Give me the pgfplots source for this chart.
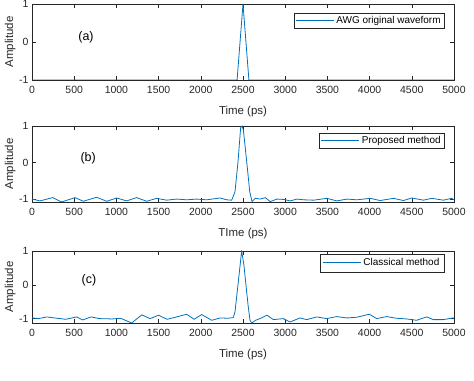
\documentclass[border=0pt]{standalone}
\usepackage{fontspec}
\setmainfont{Liberation Sans}
\usepackage{pgfplots}
\pgfplotsset{compat=1.18}
\definecolor{mblue}{rgb}{0,0.447,0.741}
\definecolor{axgray}{rgb}{0.15,0.15,0.15}
\pgfplotsset{
  panel/.style={
    scale only axis, width=422bp, xmin=0, xmax=5000, ymax=1,
    xtick={0,500,...,5000}, ytick={-1,0,1},
    tick align=inside, major tick length=4bp,
    axis line style={axgray, line width=0.5pt}, tick style={axgray, line width=0.5pt},
    tick label style={font=\fontsize{10.5}{12}\selectfont, text=axgray},
    xticklabel style={yshift=-3bp},
    label style={font=\fontsize{11.5}{13}\selectfont, text=axgray},
    xlabel style={yshift=-5bp},
    ylabel style={at={(axis description cs:-0.052,0.5)}, anchor=center},
    /pgf/number format/assume math mode=true,
    /pgf/number format/1000 sep={},
    scaled x ticks=false,
    ylabel={Amplitude},
    legend cell align=left,
    legend style={font=\fontsize{10}{11}\selectfont, draw=axgray, fill=white, at={(1,1)}, anchor=north east, xshift=-10bp, inner sep=1.2pt, row sep=0pt},
    legend image code/.code={\draw[color=mblue, line width=1.1pt] (0bp,0.3bp) -- (38bp,0.3bp);},
  }
}
\begin{document}
\begin{tikzpicture}
% (a)
\begin{axis}[panel, at={(32bp,301bp)}, anchor=south west, height=76bp, ymin=-1,
  xlabel={Time (ps)}, legend style={yshift=-9bp}]
\addplot[mblue, no markers, line width=0.8pt] coordinates {(0,-1) (2430,-1) (2500,1) (2570,-1) (5000,-1)};
\addlegendentry{AWG original waveform}
\node[font=\fontsize{12.5}{14}\selectfont] at (axis cs:640,0.13) {(a)};
\end{axis}
% (b)
\begin{axis}[panel, at={(32bp,179bp)}, anchor=south west, height=76bp, ymin=-1.08,
  xlabel={TIme (ps)}, legend style={yshift=-7bp}]
\addplot[mblue, no markers, line width=0.8pt] coordinates {
(0,-1.00) (95,-1.05) (245,-0.96) (351,-1.08) (510,-0.96) (608,-1.06) (766,-0.95)
(885,-1.06) (1003,-0.97) (1122,-1.05) (1240,-0.96) (1359,-1.06) (1477,-0.98)
(1596,-1.03) (1714,-1.00) (1833,-1.02) (1951,-1.00) (2070,-1.02) (2228,-0.97)
(2307,-1.02) (2366,-1.03) (2405,-0.80) (2440,0.0) (2472,0.95) (2490,1.0)
(2505,0.88) (2545,0.0) (2580,-0.80) (2607,-1.07) (2646,-0.98) (2705,-1.00)
(2764,-0.96) (2823,-1.07) (2902,-1.00) (2981,-1.01) (3060,-1.05) (3139,-1.00)
(3218,-1.02) (3336,-1.03) (3494,-0.98) (3612,-1.05) (3731,-1.00) (3849,-1.02)
(4007,-0.98) (4125,-1.04) (4283,-0.98) (4401,-1.04) (4500,-0.97) (4638,-1.03)
(4737,-0.98) (4875,-1.03) (4973,-0.98) (5000,-1.02)};
\addlegendentry{Proposed method}
\node[font=\fontsize{12.5}{14}\selectfont] at (axis cs:665,0.12) {(b)};
\end{axis}
% (c)
\begin{axis}[panel, at={(32bp,58bp)}, anchor=south west, height=72bp, ymin=-1.13,
  xlabel={Time (ps)}, legend style={yshift=-3bp, inner sep=2.5pt}]
\addplot[mblue, no markers, line width=0.8pt] coordinates {
(0,-0.98) (80,-1.0) (174,-0.95) (300,-0.99) (400,-1.02) (530,-0.95) (600,-1.04)
(700,-0.95) (800,-1.0) (950,-1.01) (1050,-0.99) (1181,-1.13) (1300,-0.89)
(1400,-1.0) (1500,-0.9) (1600,-1.02) (1700,-0.96) (1833,-0.87) (1920,-1.02)
(2010,-0.88) (2130,-1.05) (2230,-0.98) (2320,-0.99) (2385,-0.97) (2405,-0.8)
(2445,0.1) (2484,1.0) (2510,0.6) (2560,-0.6) (2583,-1.05) (2603,-1.13)
(2650,-1.05) (2700,-1.0) (2784,-0.9) (2860,-1.03) (2978,-1.0) (3057,-1.1)
(3176,-0.98) (3255,-1.03) (3373,-0.95) (3492,-1.0) (3610,-0.94) (3729,-0.98)
(3847,-0.96) (3997,-0.87) (4084,-1.0) (4202,-0.94) (4320,-0.99) (4439,-1.01)
(4557,-1.05) (4676,-0.95) (4755,-1.03) (4873,-1.03) (4991,-0.98) (5000,-0.98)};
\addlegendentry{Classical method}
\node[font=\fontsize{12.5}{14}\selectfont] at (axis cs:675,0.12) {(c)};
\end{axis}
\pgfresetboundingbox
\useasboundingbox (0,0) rectangle (474bp,381bp);
\end{tikzpicture}
\end{document}
